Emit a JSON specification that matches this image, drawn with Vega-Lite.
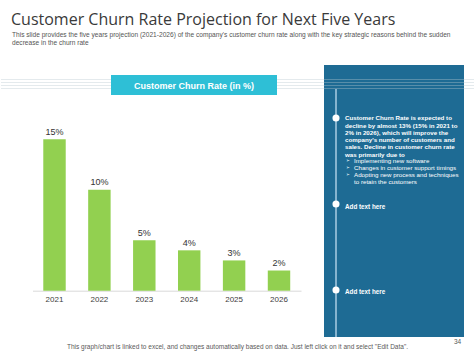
{
  "$schema": "https://vega.github.io/schema/vega-lite/v6.json",
  "width": 474,
  "height": 355,
  "autosize": {"type": "fit", "contains": "padding"},
  "padding": 0,
  "background": "white",
  "config": {"view": {"stroke": null}},
  "data": {"values": [{}]},
  "layer": [
    {"mark": {"type": "rect", "x": 323, "x2": 463, "y": 65, "y2": 337, "fill": "#1e6b94"}, "encoding": {}},
    {"mark": {"type": "rule", "color": "#86b4cf", "strokeWidth": 2}, "encoding": {"x": {"value": 335}, "y": {"value": 89}, "y2": {"value": 337}}},
    {"mark": {"type": "rule", "color": "#b8c8d0", "opacity": 0.38, "strokeWidth": 1}, "encoding": {"x": {"value": 0}, "x2": {"value": 474}, "y": {"value": 79.5}}},
    {"mark": {"type": "rule", "color": "#b8c8d0", "opacity": 0.38, "strokeWidth": 1}, "encoding": {"x": {"value": 0}, "x2": {"value": 474}, "y": {"value": 82.5}}},
    {"mark": {"type": "rule", "color": "#b8c8d0", "opacity": 0.38, "strokeWidth": 1}, "encoding": {"x": {"value": 0}, "x2": {"value": 474}, "y": {"value": 85.5}}},
    {"mark": {"type": "rule", "color": "#b8c8d0", "opacity": 0.38, "strokeWidth": 1}, "encoding": {"x": {"value": 0}, "x2": {"value": 474}, "y": {"value": 88.5}}},
    {"mark": {"type": "rect", "x": 110, "x2": 276, "y": 75, "y2": 95, "fill": "#2ebfd6"}, "encoding": {}},
    {"mark": {"type": "text", "x": 193, "y": 85.5, "text": "Customer Churn Rate (in %)", "font": "Liberation Sans", "fontWeight": "bold", "fontSize": 9, "color": "white", "align": "center", "baseline": "middle"}, "encoding": {}},
    {"mark": {"type": "point", "x": 335, "y": 118, "size": 50, "filled": true, "color": "white", "opacity": 1}, "encoding": {}},
    {"mark": {"type": "point", "x": 335, "y": 204, "size": 50, "filled": true, "color": "white", "opacity": 1}, "encoding": {}},
    {"mark": {"type": "point", "x": 335, "y": 290, "size": 50, "filled": true, "color": "white", "opacity": 1}, "encoding": {}},
    {"mark": {"type": "text", "x": 344, "y": 118.3, "lineHeight": 7.3, "text": ["Customer Churn Rate is expected to", "decline by almost 13% (15% in 2021 to", "2% in 2026), which will improve the", "company's number of customers and", "sales. Decline in customer churn rate", "was primarily due to"], "font": "Liberation Sans", "fontWeight": "bold", "fontSize": 6.2, "color": "white", "align": "left", "baseline": "middle"}, "encoding": {}},
    {"mark": {"type": "text", "x": 345, "y": 161, "lineHeight": 7, "text": ["➢", "➢", "➢"], "font": "DejaVu Sans", "fontSize": 4.5, "color": "white", "align": "left", "baseline": "middle"}, "encoding": {}},
    {"mark": {"type": "text", "x": 353, "y": 161, "lineHeight": 7, "text": ["Implementing new software", "Changes in customer support timings", "Adopting new process and techniques", "to retain the customers"], "font": "Liberation Sans", "fontSize": 6.2, "color": "white", "align": "left", "baseline": "middle"}, "encoding": {}},
    {"mark": {"type": "text", "x": 344, "y": 206.5, "text": "Add text here", "font": "Liberation Sans", "fontWeight": "bold", "fontSize": 6.3, "color": "white", "align": "left", "baseline": "middle"}, "encoding": {}},
    {"mark": {"type": "text", "x": 344, "y": 291.5, "text": "Add text here", "font": "Liberation Sans", "fontWeight": "bold", "fontSize": 6.3, "color": "white", "align": "left", "baseline": "middle"}, "encoding": {}},
    {"mark": {"type": "text", "x": 10, "y": 25, "text": "Customer Churn Rate Projection for Next Five Years", "font": "Open Sans", "fontSize": 16, "color": "#3a3a3a", "align": "left", "baseline": "alphabetic"}, "encoding": {}},
    {"mark": {"type": "text", "x": 11, "y": 35, "lineHeight": 7.5, "text": ["This slide provides  the five  years projection (2021-2026)  of the company's customer churn rate along with the key strategic reasons behind the sudden", "decrease in the churn rate"], "font": "Liberation Sans", "fontSize": 6.6, "color": "#555555", "align": "left", "baseline": "middle"}, "encoding": {}},
    {"mark": {"type": "text", "x": 236.5, "y": 347, "text": "This graph/chart is linked to excel, and changes automatically based on data. Just left click on it and select \"Edit Data\".", "font": "Liberation Sans", "fontSize": 6.5, "color": "#595959", "align": "center", "baseline": "middle"}, "encoding": {}},
    {"mark": {"type": "text", "x": 453, "y": 342, "text": "34", "font": "Liberation Sans", "fontSize": 6.5, "color": "#595959", "align": "left", "baseline": "middle"}, "encoding": {}},
    {
      "data": {"values": [
        {"year": "2021", "rate": 15, "label": "15%"},
        {"year": "2022", "rate": 10, "label": "10%"},
        {"year": "2023", "rate": 5, "label": "5%"},
        {"year": "2024", "rate": 4, "label": "4%"},
        {"year": "2025", "rate": 3, "label": "3%"},
        {"year": "2026", "rate": 2, "label": "2%"}
      ]},
      "encoding": {
        "x": {"field": "year", "type": "ordinal",
          "scale": {"range": [31.5, 300], "paddingInner": 0.5, "paddingOuter": 0.24},
          "axis": {"title": null, "orient": "bottom", "offset": -64.3, "labelAngle": 0, "ticks": false, "tickSize": 0, "labelPadding": 5, "labelFont": "Liberation Sans", "labelFontSize": 8, "labelColor": "#404040", "domainColor": "#d9d9d9", "domainWidth": 1}},
        "y": {"field": "rate", "type": "quantitative", "scale": {"domain": [0, 15], "range": [290.7, 139.3]}, "axis": null}
      },
      "layer": [
        {"mark": {"type": "bar", "color": "#92d050"}},
        {"mark": {"type": "text", "dy": -7.5, "baseline": "middle", "font": "Liberation Sans", "fontSize": 9, "color": "#333333"},
         "encoding": {"text": {"field": "label", "type": "nominal"}}}
      ]
    }
  ]
}
